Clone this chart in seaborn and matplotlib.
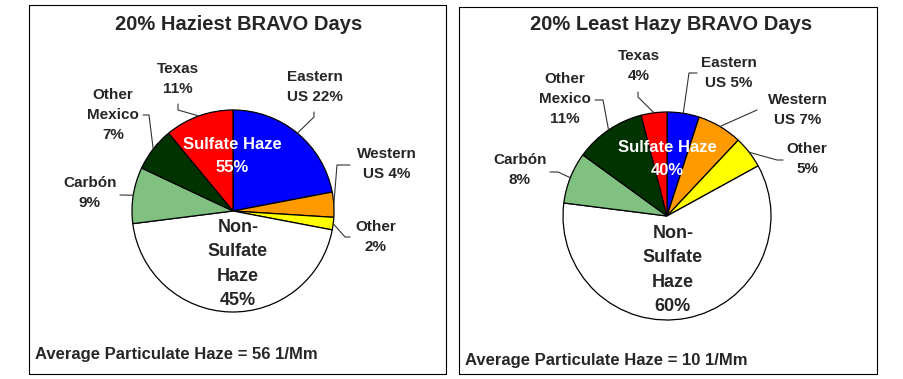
import matplotlib
matplotlib.use("Agg")
import matplotlib.pyplot as plt
import seaborn as sns
import numpy as np

sns.set_style("white")
plt.rcParams['font.family'] = ['Liberation Sans', 'DejaVu Sans']

# ---- data ----
categories = ["Eastern US", "Western US", "Other", "Non-Sulfate Haze", "Carbón", "Other Mexico", "Texas"]
haziest_values = [22, 4, 2, 45, 9, 7, 11]
least_hazy_values = [5, 7, 5, 60, 8, 11, 4]
haziest_labels = ["Eastern\nUS 22%", "Western\nUS 4%", "Other\n2%", "Non-\nSulfate\nHaze\n45%",
                  "Carbón\n9%", "Other\nMexico\n7%", "Texas\n11%"]
least_hazy_labels = ["Eastern\nUS 5%", "Western\nUS 7%", "Other\n5%", "Non-\nSulfate\nHaze\n60%",
                     "Carbón\n8%", "Other\nMexico\n11%", "Texas\n4%"]
haziest_sulfate = "Sulfate Haze\n55%"
least_hazy_sulfate = "Sulfate Haze\n40%"
titles = ["20% Haziest BRAVO Days", "20% Least Hazy BRAVO Days"]
footers = ["Average Particulate Haze = 56 1/Mm", "Average Particulate Haze = 10 1/Mm"]

colors = ["#0000FF", "#FF9900", "#FFFF00", "#FFFFFF", "#80C080", "#003300", "#FF0000"]

W, H = 904, 379
fig = plt.figure(figsize=(W / 100, H / 100), dpi=100)
ax = fig.add_axes([0, 0, 1, 1])


def Y(y):
    return H - y


panels = [
    dict(values=haziest_values, labels=haziest_labels, sulfate=haziest_sulfate,
         title=titles[0], footer=footers[0],
         box=(29, 5, 446, 374), center=(233, 211), radius=101,
         title_pos=(239, 24), footer_pos=(35, 355), sulfate_pos=(232, 156),
         label_pos=[(315, 87), (387, 164), (376, 237), (238, 264), (90, 193), (113, 115), (178, 79)],
         leaders=[[(314, 117), (314, 112)], [(337, 165), (350, 165)], [(345, 237), (350, 237)],
                  None, [(120, 195)], [(149, 115), (143, 115)], [(178, 110), (178, 104)]]),
    dict(values=least_hazy_values, labels=least_hazy_labels, sulfate=least_hazy_sulfate,
         title=titles[1], footer=footers[1],
         box=(459, 7, 877, 374), center=(667, 216), radius=104,
         title_pos=(671, 25), footer_pos=(465, 361), sulfate_pos=(667, 159),
         label_pos=[(729, 73), (798, 110), (807, 159), (673, 270), (520, 170), (565, 99), (639, 66)],
         leaders=[[(689, 73), (697, 73)], [(757, 110)], [(777, 160), (783, 160)],
                  None, [(558, 172), (550, 172)], [(603, 100), (595, 100)], [(638, 97), (638, 92)]]),
]

for p in panels:
    cx, cy = p["center"]
    r = p["radius"]
    wedges, _ = ax.pie(p["values"], colors=colors, startangle=90, counterclock=False,
                       center=(cx, Y(cy)), radius=r,
                       wedgeprops=dict(edgecolor="black", linewidth=0.9), frame=True)
    # box
    x0, y0, x1, y1 = p["box"]
    ax.plot([x0, x1, x1, x0, x0], [Y(y0), Y(y0), Y(y1), Y(y1), Y(y0)], color="black", lw=0.8)
    ax.text(p["title_pos"][0], Y(p["title_pos"][1]), p["title"], ha="center", va="center",
            fontsize=14.5, fontweight="bold")
    ax.text(p["footer_pos"][0], Y(p["footer_pos"][1]), p["footer"], ha="left", va="center",
            fontsize=12, fontweight="bold")
    ax.text(p["sulfate_pos"][0], Y(p["sulfate_pos"][1]), p["sulfate"], ha="center", va="center",
            fontsize=12, fontweight="bold", color="white", linespacing=1.65)
    for i, w in enumerate(wedges):
        lx, ly = p["label_pos"][i]
        if i == 3:
            ax.text(lx, Y(ly), p["labels"][i], ha="center", va="center", fontsize=13,
                    fontweight="bold", linespacing=1.58)
            continue
        ax.text(lx, Y(ly), p["labels"][i], ha="center", va="center", fontsize=11,
                fontweight="bold", linespacing=1.55)
        mid = np.deg2rad((w.theta1 + w.theta2) / 2)
        sx, sy = cx + r * np.cos(mid), Y(cy) + r * np.sin(mid)
        pts = [(sx, sy)] + [(px, Y(py)) for px, py in p["leaders"][i]]
        xs, ys = zip(*pts)
        ax.plot(xs, ys, color="#333333", lw=0.8)

ax.set_xlim(0, W)
ax.set_ylim(0, H)
ax.set_aspect("equal", adjustable="box")
ax.axis("off")
fig.savefig("out.png", dpi=100, facecolor="white")
